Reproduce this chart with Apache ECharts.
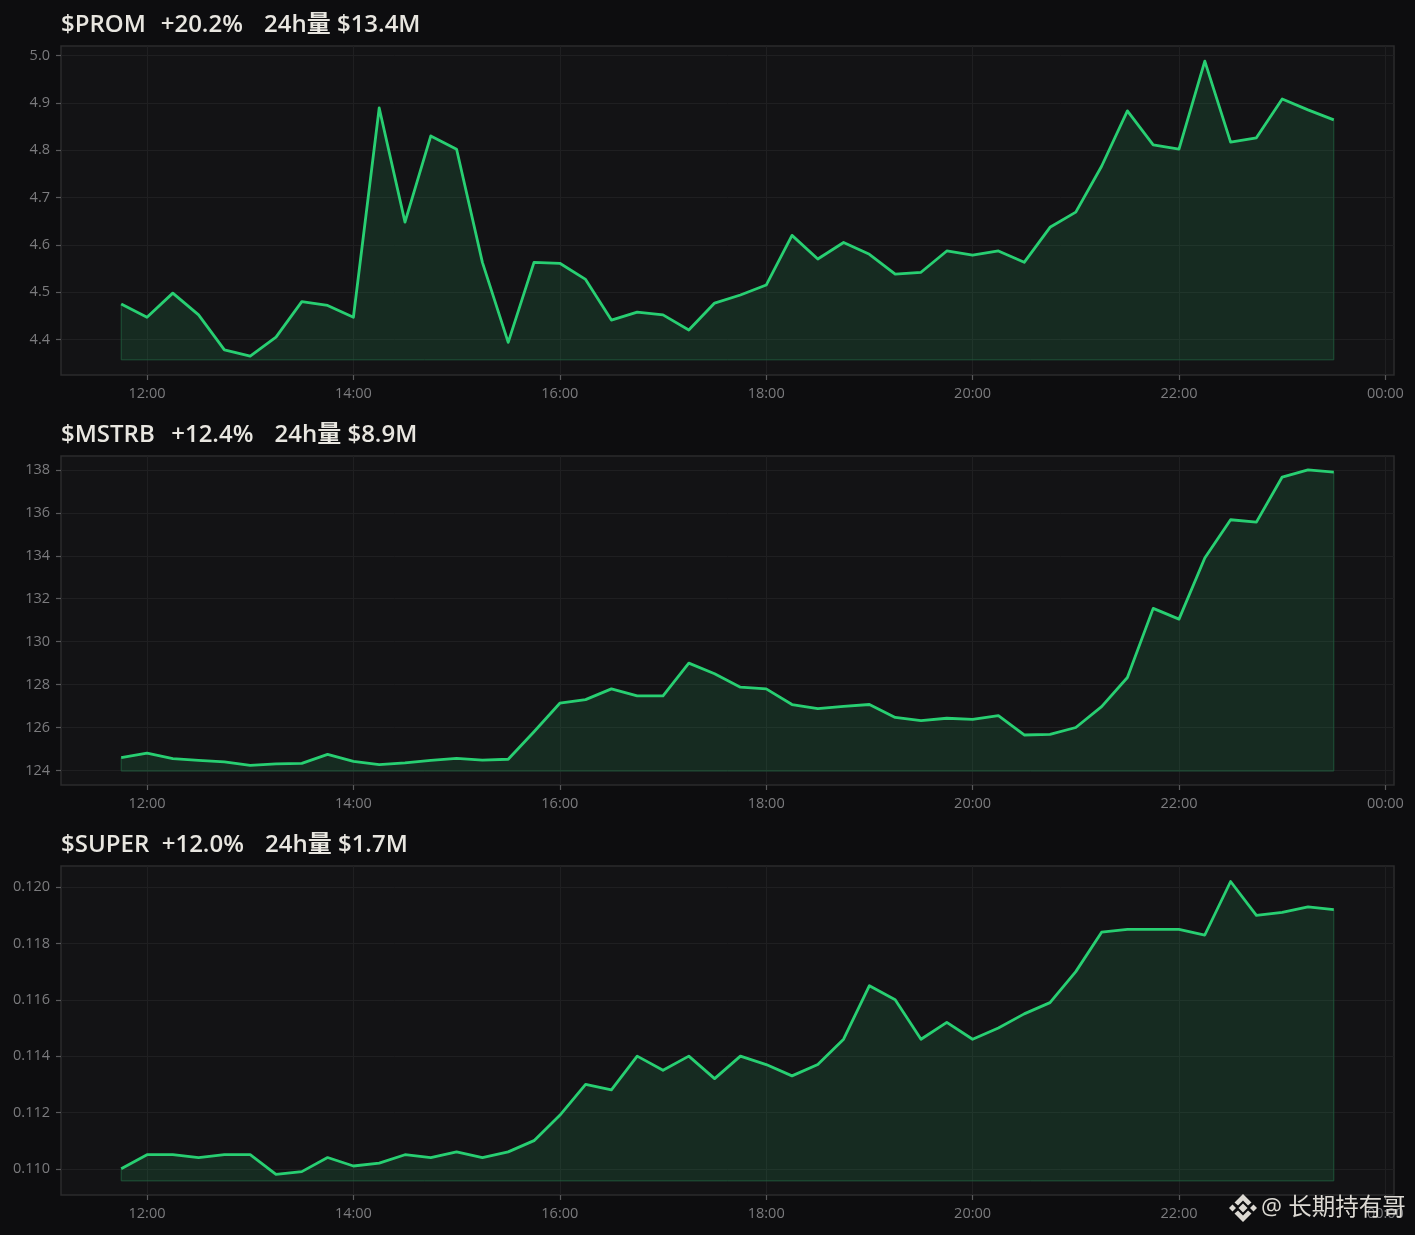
<!DOCTYPE html>
<html><head><meta charset="utf-8">
<style>html,body{margin:0;padding:0;background:#0d0d0f}#c{width:1415px;height:1235px}</style>
<script src="https://cdn.jsdelivr.net/npm/echarts@6/dist/echarts.min.js"></script>
</head><body><div id="c"></div>
<script>
const minutes = [705,720,735,750,765,780,795,810,825,840,855,870,885,900,915,930,945,960,975,990,1005,1020,1035,1050,1065,1080,1095,1110,1125,1140,1155,1170,1185,1200,1215,1230,1245,1260,1275,1290,1305,1320,1335,1350,1365,1380,1395,1410];
const xTicks = [720,840,960,1080,1200,1320,1440];
const xTickLabels = ['12:00','14:00','16:00','18:00','20:00','22:00','00:00'];

const promValues = [4.475,4.447,4.498,4.452,4.378,4.365,4.405,4.48,4.472,4.447,4.889,4.648,4.83,4.802,4.563,4.394,4.563,4.561,4.527,4.441,4.458,4.452,4.42,4.477,4.494,4.515,4.62,4.57,4.605,4.58,4.538,4.542,4.587,4.578,4.587,4.563,4.637,4.669,4.766,4.883,4.811,4.802,4.988,4.817,4.826,4.908,4.885,4.864];
const mstrbValues = [124.6,124.8,124.55,124.47,124.4,124.23,124.3,124.33,124.75,124.42,124.27,124.35,124.47,124.56,124.48,124.52,125.8,127.13,127.3,127.8,127.47,127.47,129.0,128.5,127.88,127.8,127.07,126.88,126.98,127.07,126.47,126.32,126.43,126.38,126.55,125.65,125.68,126.0,126.97,128.33,131.55,131.05,133.9,135.68,135.57,137.67,138.0,137.9];
const superValues = [0.1100,0.1105,0.1105,0.1104,0.1105,0.1105,0.1098,0.1099,0.1104,0.1101,0.1102,0.1105,0.1104,0.1106,0.1104,0.1106,0.1110,0.1119,0.1130,0.1128,0.1140,0.1135,0.1140,0.1132,0.1140,0.1137,0.1133,0.1137,0.1146,0.1165,0.1160,0.1146,0.1152,0.1146,0.1150,0.1155,0.1159,0.1170,0.1184,0.1185,0.1185,0.1185,0.1183,0.1202,0.1190,0.1191,0.1193,0.1192];

const promTicks = [4.4,4.5,4.6,4.7,4.8,4.9,5.0];
const mstrbTicks = [124,126,128,130,132,134,136,138];
const superTicks = [0.110,0.112,0.114,0.116,0.118,0.120];

const gap2 = '   \u200a';
const panels = [
  {title:'$PROM  \u200a+20.2%'+gap2+'24h量 $13.4M', values:promValues, ticks:promTicks, dec:1, min:4.325, max:5.02, base:4.357, top:46},
  {title:'$MSTRB  \u2009+12.4%'+gap2+'24h量 $8.9M', values:mstrbValues, ticks:mstrbTicks, dec:0, min:123.32, max:138.65, base:123.97, top:456},
  {title:'$SUPER  +12.0%'+gap2+'24h量 $1.7M', values:superValues, ticks:superTicks, dec:3, min:0.10907, max:0.12075, base:0.10957, top:866}
];

const FONT = '"Open Sans","Noto Sans CJK SC",sans-serif';
const GRIDLINE = '#1f1f21', BORDER = '#2b2b2d', TICK = '#5a5a5c', LABEL = '#7b7b7e';
const GREEN = '#28cf72';
const opt = {
  backgroundColor:'#0d0d0f', animation:false,
  title:[], grid:[], xAxis:[], yAxis:[], series:[],
  graphic:[]
};
panels.forEach((p,i)=>{
  opt.title.push({text:p.title, left:61, top:p.top-33, padding:0,
    textStyle:{color:'#e8e6e0',fontSize:24,fontWeight:600,fontFamily:FONT}});
  opt.grid.push({left:61, top:p.top, width:1333, height:329, show:true,
    backgroundColor:'#131315', borderColor:BORDER, borderWidth:1.5});
  opt.xAxis.push({type:'value', gridIndex:i, min:670, max:1445,
    axisLine:{show:false},
    axisTick:{show:true, customValues:xTicks, length:5, lineStyle:{color:TICK,width:1.2}},
    axisLabel:{show:true, customValues:xTicks, margin:12, color:LABEL, fontSize:14.5, fontFamily:FONT,
      showMinLabel:true, showMaxLabel:true, hideOverlap:false,
      formatter:v=>xTickLabels[xTicks.indexOf(v)]||''},
    splitLine:{show:true, lineStyle:{color:GRIDLINE,width:1}}});
  opt.yAxis.push({type:'value', gridIndex:i, min:p.min, max:p.max,
    axisLine:{show:false},
    axisTick:{show:true, customValues:p.ticks, length:5, lineStyle:{color:TICK,width:1.2}},
    axisLabel:{show:true, customValues:p.ticks, margin:11, color:LABEL, fontSize:14.5, fontFamily:FONT,
      padding:[2,0,0,0], formatter:v=>v.toFixed(p.dec)},
    splitLine:{show:true, lineStyle:{color:GRIDLINE,width:1}}});
  const pts = minutes.map((m,k)=>[m,p.values[k]]);
  const last = minutes.length-1;
  opt.series.push({type:'line', xAxisIndex:i, yAxisIndex:i, silent:true, symbol:'none', z:2,
    data:[[minutes[0],p.values[0]],[minutes[0],p.base],[minutes[last],p.base],[minutes[last],p.values[last]]],
    lineStyle:{color:'#1f4a35',width:1}});
  opt.series.push({type:'line', xAxisIndex:i, yAxisIndex:i, silent:true, symbol:'none', z:3,
    data:pts, lineStyle:{color:GREEN,width:2.8,join:'round'},
    areaStyle:{color:'rgba(46,204,113,0.19)',origin:p.base}});
});
// watermark
const WM='#dcd9d3';
const cx=1243, cy=1208;
const poly=(points)=>({type:'polygon',z:50,shape:{points:points.map(q=>[cx+q[0],cy+q[1]])},style:{fill:WM}});
opt.graphic=[
  poly([[0,-4.5],[4.5,0],[0,4.5],[-4.5,0]]),
  poly([[-10.5,-3.5],[-7,0],[-10.5,3.5],[-14,0]]),
  poly([[10.5,-3.5],[14,0],[10.5,3.5],[7,0]]),
  poly([[0,-14],[8.5,-5.5],[5,-2.5],[0,-7.5],[-5,-2.5],[-8.5,-5.5]]),
  poly([[0,14],[8.5,5.5],[5,2.5],[0,7.5],[-5,2.5],[-8.5,5.5]]),
  {type:'text',z:50,left:1261,top:1197,style:{text:'@ 长期持有哥',fill:WM,fontSize:23.5,fontFamily:FONT}}
];
echarts.init(document.getElementById('c'),null,{renderer:'canvas'}).setOption(opt);
</script></body></html>
